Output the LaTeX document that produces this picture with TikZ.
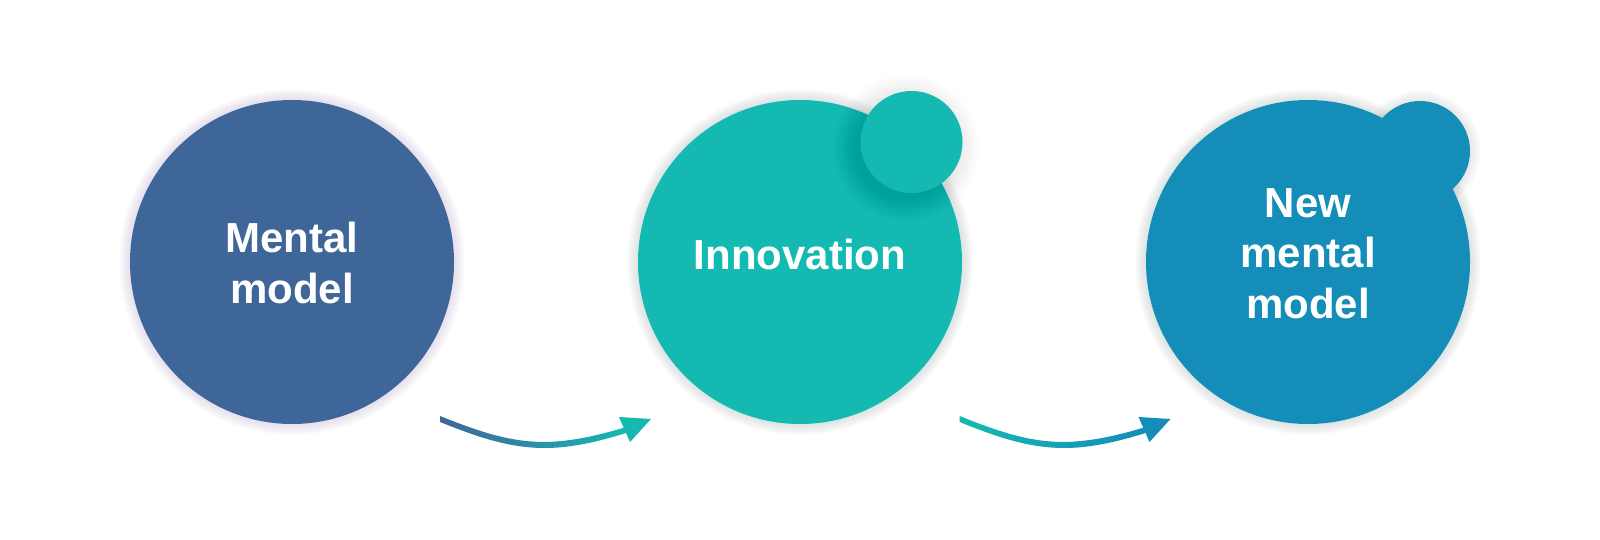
\documentclass[tikz,border=0pt]{standalone}
\usepackage{fontspec}
\setmainfont{Liberation Sans}
\usetikzlibrary{calc}
\definecolor{cOne}{RGB}{62,102,153}
\definecolor{cTwo}{RGB}{20,185,178}
\definecolor{cThree}{RGB}{20,142,185}
\definecolor{glowOne}{RGB}{120,105,180}
\definecolor{glowTwo}{RGB}{80,115,115}
\tikzset{
  disc/.style={circle, inner sep=0pt, minimum size=324pt, draw=none},
  smalldisc/.style={circle, inner sep=0pt, minimum size=#1, draw=none},
  lbl/.style={text=white, font=\fontsize{42}{50.5}\selectfont\bfseries, align=center, inner sep=0pt},
}
\newcommand{\glowring}[5]{% x, y, radius, colour, opacity
  \foreach \k in {1,...,11}{\fill[#4, opacity=#5] (#1,#2) circle ({(#3+\k)*1pt});}
}
\newcommand{\gradarrow}[3]{% xshift, start colour, end colour
  \begin{scope}[xshift=#1pt]
    \shade[left color=#2, right color=#3]
      (440,416) .. controls (480,432) and (510,442) .. (545,442)
      .. controls (575,441.5) and (605,433.5) .. (626,427)
      -- (626,433) .. controls (605,439.5) and (575,448) .. (545,448)
      .. controls (510,448) and (480,438) .. (440,422) -- cycle;
    \fill[#3] (651,419) -- (619,417) -- (630,442) -- cycle;
  \end{scope}
}
\begin{document}
\begin{tikzpicture}[x=1pt,y=-1pt]
\useasboundingbox (0,0) rectangle (1600,540);
\fill[white] (0,0) rectangle (1600,540);

% glows
\glowring{292}{262}{162}{glowOne}{0.016}
\glowring{800}{262}{162}{glowTwo}{0.014}
\glowring{1308}{262}{162}{glowTwo}{0.014}
\glowring{1420}{151}{50}{glowTwo}{0.010}

% circle 1
\node[disc, fill=cOne] (c1) at (292,262) {};
\node[lbl] (t1) at (292,263) {Mental\\model};

% circle 2
\node[disc, fill=cTwo] (c2) at (800,262) {};
\foreach \k in {1,...,24}{\fill[black, opacity=0.0035] (906,148) circle ({(50+\k)*1pt});}
\node[smalldisc=102pt, fill=cTwo] (s2) at (911.5,142) {};
\node[lbl, anchor=base] (t2) at (800,269) {Innovation};

% circle 3 (blob)
\node[disc, fill=cThree] (c3) at (1308,262) {};
\node[smalldisc=100pt, fill=cThree] (s3) at (1420,151) {};
\node[lbl] (t3) at (1308,253.5) {New\\mental\\model};

% arrows
\gradarrow{0}{cOne}{cTwo}
\gradarrow{519.5}{cTwo}{cThree}
\end{tikzpicture}
\end{document}
